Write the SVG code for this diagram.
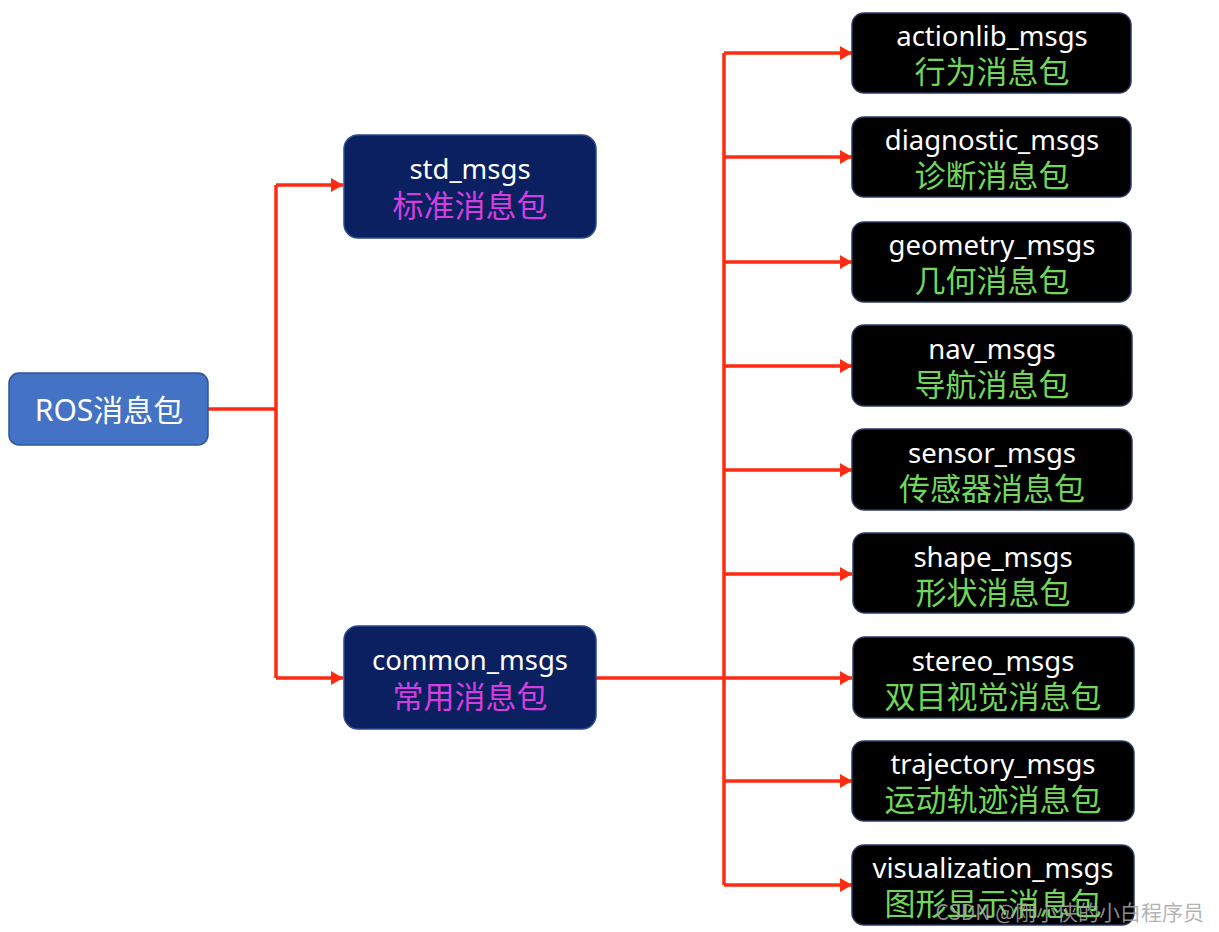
<svg xmlns="http://www.w3.org/2000/svg" width="1219" height="932" viewBox="0 0 1219 932">
<defs>
<marker id="ah" markerWidth="12" markerHeight="14" refX="12" refY="7" orient="auto" markerUnits="userSpaceOnUse">
<path d="M0,0 L12,7 L0,14 Z" fill="#ff2a12"/>
</marker>
<style>
.en{font-family:"Noto Sans","Liberation Sans","Noto Sans CJK SC",sans-serif;font-size:27.5px;fill:#ffffff;text-anchor:middle}
.zh{font-family:"Noto Sans CJK SC","Noto Sans",sans-serif;font-size:31px;text-anchor:middle}
.g{fill:#72d65a}
.m{fill:#d43ddf}
.blk{fill:#000000;stroke:#2a3a66;stroke-width:1.5}
.navy{fill:#0b2060;stroke:#2a4a8a;stroke-width:1.5}
.con{fill:none;stroke:#ff2a12;stroke-width:3.5}
</style>
</defs>
<rect x="0" y="0" width="1219" height="932" fill="#ffffff"/>
<g id="connectors">
<path class="con" d="M208,409 H276"/>
<path class="con" d="M276,185 V678"/>
<path class="con" d="M276,185 H343" marker-end="url(#ah)"/>
<path class="con" d="M276,678 H343" marker-end="url(#ah)"/>
<path class="con" d="M596,678 H724"/>
<path class="con" d="M724,53 V885"/>
<path class="con" d="M724,53 H852" marker-end="url(#ah)"/>
<path class="con" d="M724,157 H852" marker-end="url(#ah)"/>
<path class="con" d="M724,262 H852" marker-end="url(#ah)"/>
<path class="con" d="M724,366 H852" marker-end="url(#ah)"/>
<path class="con" d="M724,470 H852" marker-end="url(#ah)"/>
<path class="con" d="M724,574 H852" marker-end="url(#ah)"/>
<path class="con" d="M724,678 H852" marker-end="url(#ah)"/>
<path class="con" d="M724,781 H852" marker-end="url(#ah)"/>
<path class="con" d="M724,885 H852" marker-end="url(#ah)"/>
</g>
<g id="ros">
<rect x="9" y="373" width="199" height="72" rx="10" fill="#4472c4" stroke="#2f5597" stroke-width="1.5"/>
<text x="109" y="421" class="en" style="font-size:30px">ROS消息包</text>
</g>
<g id="std_msgs">
<rect x="344" y="135" width="252" height="103" rx="14" class="navy"/>
<text x="470" y="179" class="en">std_msgs</text>
<text x="470" y="217" class="zh m">标准消息包</text>
</g>
<g id="common_msgs">
<rect x="344" y="626" width="252" height="103" rx="14" class="navy"/>
<text x="470" y="670" class="en">common_msgs</text>
<text x="470" y="708" class="zh m">常用消息包</text>
</g>
<g id="actionlib_msgs">
<rect x="852" y="13" width="279" height="80" rx="12" class="blk"/>
<text x="992" y="46" class="en">actionlib_msgs</text>
<text x="992" y="83" class="zh g">行为消息包</text>
</g>
<g id="diagnostic_msgs">
<rect x="852" y="117" width="279" height="80" rx="12" class="blk"/>
<text x="992" y="150" class="en">diagnostic_msgs</text>
<text x="992" y="187" class="zh g">诊断消息包</text>
</g>
<g id="geometry_msgs">
<rect x="852" y="222" width="279" height="80" rx="12" class="blk"/>
<text x="992" y="255" class="en">geometry_msgs</text>
<text x="992" y="292" class="zh g">几何消息包</text>
</g>
<g id="nav_msgs">
<rect x="852" y="325" width="280" height="81" rx="12" class="blk"/>
<text x="992" y="359" class="en">nav_msgs</text>
<text x="992" y="396" class="zh g">导航消息包</text>
</g>
<g id="sensor_msgs">
<rect x="852" y="429" width="280" height="81" rx="12" class="blk"/>
<text x="992" y="463" class="en">sensor_msgs</text>
<text x="992" y="500" class="zh g">传感器消息包</text>
</g>
<g id="shape_msgs">
<rect x="853" y="533" width="281" height="80" rx="12" class="blk"/>
<text x="993" y="567" class="en">shape_msgs</text>
<text x="993" y="604" class="zh g">形状消息包</text>
</g>
<g id="stereo_msgs">
<rect x="853" y="637" width="281" height="81" rx="12" class="blk"/>
<text x="993" y="671" class="en">stereo_msgs</text>
<text x="993" y="708" class="zh g">双目视觉消息包</text>
</g>
<g id="trajectory_msgs">
<rect x="852" y="741" width="282" height="80" rx="12" class="blk"/>
<text x="993" y="774" class="en">trajectory_msgs</text>
<text x="993" y="811" class="zh g">运动轨迹消息包</text>
</g>
<g id="visualization_msgs">
<rect x="852" y="845" width="282" height="80" rx="12" class="blk"/>
<text x="993" y="878" class="en">visualization_msgs</text>
<text x="993" y="915" class="zh g">图形显示消息包</text>
</g>
<text x="1204" y="920" style="font-family:'Noto Sans CJK SC','Noto Sans',sans-serif;font-size:21px;fill:#a6a6a6;fill-opacity:0.85;text-anchor:end">CSDN @刚小侠的小白程序员</text>
</svg>
